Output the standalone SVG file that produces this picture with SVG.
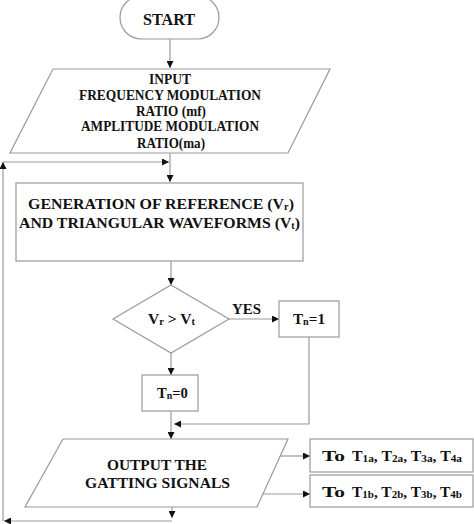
<svg xmlns="http://www.w3.org/2000/svg" width="474" height="524" viewBox="0 0 474 524">
<style>
.s{fill:#fff;stroke:#999;stroke-width:1.2}
.c{fill:none;stroke:#999;stroke-width:1.2}
.t{font-family:"Liberation Serif","Times New Roman",serif;font-weight:bold;fill:#111;text-anchor:middle}
.l{text-anchor:start}
.sub{font-size:10px}
</style>
<defs>
<marker id="a" viewBox="0 0 10 10" refX="10" refY="5" markerWidth="7" markerHeight="7" markerUnits="userSpaceOnUse" orient="auto">
<path d="M0,0 L10,5 L0,10 z" fill="#111"/>
</marker>
</defs>
<rect width="474" height="524" fill="#fff"/>
<g id="connectors">
<line class="c" x1="170" y1="39" x2="170" y2="68" marker-end="url(#a)"/>
<line class="c" x1="170" y1="153" x2="170" y2="182" marker-end="url(#a)"/>
<line class="c" x1="3" y1="162" x2="169" y2="162" marker-end="url(#a)"/>
<line class="c" x1="3" y1="521" x2="3" y2="162" marker-end="url(#a)"/>
<line class="c" x1="172" y1="521" x2="4" y2="521" marker-end="url(#a)"/>
<line class="c" x1="172" y1="507" x2="172" y2="518" marker-end="url(#a)"/>
<line class="c" x1="171" y1="261" x2="171" y2="285" marker-end="url(#a)"/>
<line class="c" x1="229" y1="319" x2="279" y2="319" marker-end="url(#a)"/>
<line class="c" x1="171" y1="353" x2="171" y2="375" marker-end="url(#a)"/>
<path class="c" d="M309,337 V424 H174" marker-end="url(#a)"/>
<line class="c" x1="171" y1="411" x2="171" y2="439" marker-end="url(#a)"/>
<line class="c" x1="280" y1="456" x2="310" y2="456" marker-end="url(#a)"/>
<line class="c" x1="263" y1="494" x2="310" y2="494" marker-end="url(#a)"/>
</g>
<g id="start">
<rect class="s" x="120" y="-4" width="99" height="43" rx="21.5"/>
<text class="t" x="169" y="25" font-size="16" textLength="52" lengthAdjust="spacingAndGlyphs">START</text>
</g>
<g id="input">
<polygon class="s" points="53,69 330,69 288,153 10,153"/>
<text class="t" font-size="14" x="170" y="84" textLength="42" lengthAdjust="spacingAndGlyphs">INPUT</text>
<text class="t" font-size="14" x="170" y="100" textLength="182" lengthAdjust="spacingAndGlyphs">FREQUENCY MODULATION</text>
<text class="t" font-size="14" x="171" y="116" textLength="70" lengthAdjust="spacingAndGlyphs">RATIO (mf)</text>
<text class="t" font-size="14" x="170" y="131" textLength="178" lengthAdjust="spacingAndGlyphs">AMPLITUDE MODULATION</text>
<text class="t" font-size="14" x="171" y="148" textLength="68" lengthAdjust="spacingAndGlyphs">RATIO(ma)</text>
</g>
<g id="generation">
<rect class="s" x="16" y="183" width="287" height="78"/>
<text class="t" font-size="15.5" x="161" y="209" textLength="266" lengthAdjust="spacingAndGlyphs">GENERATION OF REFERENCE (V<tspan class="sub" dy="1">r</tspan><tspan dy="-1">)</tspan></text>
<text class="t" font-size="15.5" x="159.5" y="228" textLength="281" lengthAdjust="spacingAndGlyphs">AND TRIANGULAR WAVEFORMS (V<tspan class="sub" dy="1">t</tspan><tspan dy="-1">)</tspan></text>
</g>
<g id="decision">
<polygon class="s" points="171,285 229,319 171,353 113,319"/>
<text class="t" font-size="15" x="171.5" y="324" textLength="47" lengthAdjust="spacingAndGlyphs">V<tspan class="sub" dy="1">r</tspan><tspan dy="-1"> &gt; V</tspan><tspan class="sub" dy="1">t</tspan></text>
</g>
<text class="t" font-size="15" x="246.5" y="314" textLength="29" lengthAdjust="spacingAndGlyphs">YES</text>
<g id="tn1">
<rect class="s" x="279" y="301" width="60" height="36"/>
<text class="t" font-size="15" x="309" y="324" textLength="32" lengthAdjust="spacingAndGlyphs">T<tspan class="sub" dy="1">n</tspan><tspan dy="-1">=1</tspan></text>
</g>
<g id="tn0">
<rect class="s" x="142" y="375" width="56" height="36"/>
<text class="t" font-size="15" x="172.5" y="398" textLength="31" lengthAdjust="spacingAndGlyphs">T<tspan class="sub" dy="1">n</tspan><tspan dy="-1">=0</tspan></text>
</g>
<g id="output">
<polygon class="s" points="63,439 288,439 257,507 25,507"/>
<text class="t" font-size="15.5" x="157" y="470" textLength="100" lengthAdjust="spacingAndGlyphs">OUTPUT THE</text>
<text class="t" font-size="15.5" x="157.5" y="488" textLength="145" lengthAdjust="spacingAndGlyphs">GATTING SIGNALS</text>
</g>
<g id="out1">
<rect class="s" x="310" y="439" width="163" height="33"/>
<text class="t l" font-size="14" x="322" y="461" textLength="23" lengthAdjust="spacingAndGlyphs">To</text>
<text class="t l" font-size="14" x="352" y="461" textLength="110" lengthAdjust="spacingAndGlyphs">T<tspan class="sub" dy="1">1a</tspan><tspan dy="-1">, T</tspan><tspan class="sub" dy="1">2a</tspan><tspan dy="-1">, T</tspan><tspan class="sub" dy="1">3a</tspan><tspan dy="-1">, T</tspan><tspan class="sub" dy="1">4a</tspan></text>
</g>
<g id="out2">
<rect class="s" x="310" y="475" width="163" height="32"/>
<text class="t l" font-size="14" x="322" y="497" textLength="23" lengthAdjust="spacingAndGlyphs">To</text>
<text class="t l" font-size="14" x="352" y="497" textLength="110" lengthAdjust="spacingAndGlyphs">T<tspan class="sub" dy="1">1b</tspan><tspan dy="-1">, T</tspan><tspan class="sub" dy="1">2b</tspan><tspan dy="-1">, T</tspan><tspan class="sub" dy="1">3b</tspan><tspan dy="-1">, T</tspan><tspan class="sub" dy="1">4b</tspan></text>
</g>
</svg>
